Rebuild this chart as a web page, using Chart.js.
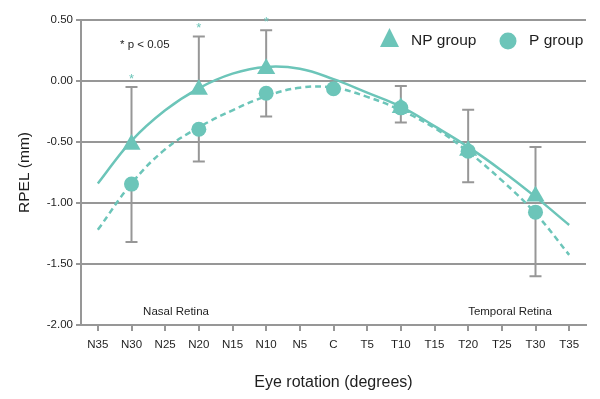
<!DOCTYPE html>
<html>
<head>
<meta charset="utf-8">
<script src="https://cdn.jsdelivr.net/npm/chart.js@4"></script>
<style>
  body { margin: 0; background: #fff; }
  canvas { display: block; }
</style>
</head>
<body>
<canvas id="rpel-chart" width="600" height="399"></canvas>
<script>
// categories along the x axis
const categories = ['N35', 'N30', 'N25', 'N20', 'N15', 'N10', 'N5', 'C', 'T5', 'T10', 'T15', 'T20', 'T25', 'T30', 'T35'];

// group means (mm)
const npMean = [null, -0.52, null, -0.07, null, 0.10, null, null, null, -0.22, null, -0.57, null, -0.945, null];
const pMean  = [null, -0.845, null, -0.395, null, -0.10, null, -0.063, null, -0.22, null, -0.575, null, -1.075, null];

// error bar ends (NP drawn upwards, P drawn downwards)
const npUpper = [null, -0.05, null, 0.365, null, 0.415, null, null, null, -0.04, null, -0.235, null, -0.54, null];
const pLower  = [null, -1.32, null, -0.66, null, -0.29, null, null, null, -0.34, null, -0.83, null, -1.60, null];

// fitted curves
const npFit = [-0.84, -0.49, -0.24, -0.06, 0.06, 0.115, 0.10, 0.015, -0.095, -0.21, -0.37, -0.54, -0.735, -0.95, -1.18];
const pFit  = [-1.22, -0.84, -0.56, -0.38, -0.24, -0.125, -0.055, -0.055, -0.13, -0.24, -0.385, -0.58, -0.815, -1.085, -1.425];

// significant points (p < 0.05)
const sigCategories = ['N30', 'N20', 'N10'];

const TEAL = '#6cc5b9';
const GRAY = '#979797';
const TEXT = '#1e1e1e';
const FONT = "'Liberation Sans', Arial, sans-serif";

Chart.defaults.font.family = FONT;
Chart.defaults.color = TEXT;

// vertical error bars with caps, drawn behind the markers
const errorBars = {
    id: 'errorBars',
    beforeDatasetsDraw(chart) {
        const { ctx, scales: { x, y } } = chart;
        ctx.save();
        ctx.strokeStyle = GRAY;
        ctx.lineWidth = 2;
        const drawBars = (means, ends) => {
            means.forEach((m, i) => {
                if (m === null || ends[i] === null) return;
                const px = x.getPixelForValue(i);
                const y0 = y.getPixelForValue(m);
                const y1 = y.getPixelForValue(ends[i]);
                ctx.beginPath();
                ctx.moveTo(px, y0);
                ctx.lineTo(px, y1);
                ctx.moveTo(px - 6, y1);
                ctx.lineTo(px + 6, y1);
                ctx.stroke();
            });
        };
        drawBars(npMean, npUpper);
        drawBars(pMean, pLower);
        ctx.restore();
    }
};

// legend and text notes inside the plot
const notes = {
    id: 'notes',
    afterDraw(chart) {
        const { ctx, scales: { x, y } } = chart;
        ctx.save();
        ctx.textBaseline = 'middle';
        ctx.textAlign = 'center';
        // teal asterisks above the significant error bars
        ctx.fillStyle = TEAL;
        ctx.font = '13px ' + FONT;
        sigCategories.forEach(c => {
            const i = categories.indexOf(c);
            const top = y.getPixelForValue(npUpper[i]);
            ctx.fillText('*', x.getPixelForValue(i), top - 8);
        });

        // legend: triangle = NP group, circle = P group
        ctx.beginPath();
        ctx.moveTo(389.5, 28);
        ctx.lineTo(399, 47);
        ctx.lineTo(380, 47);
        ctx.closePath();
        ctx.fill();
        ctx.beginPath();
        ctx.arc(508, 41, 8.5, 0, Math.PI * 2);
        ctx.fill();
        ctx.fillStyle = TEXT;
        ctx.textAlign = 'left';
        ctx.font = '15.5px ' + FONT;
        ctx.fillText(chart.data.datasets[0].label, 411, 41);
        ctx.fillText(chart.data.datasets[1].label, 529, 41);

        ctx.font = '11.5px ' + FONT;
        ctx.fillText('* p < 0.05', 120, 45);
        ctx.textAlign = 'center';
        ctx.fillText('Nasal Retina', 176, 312);
        ctx.fillText('Temporal Retina', 510, 312);
        ctx.restore();
    }
};

const ctx = document.getElementById('rpel-chart');
new Chart(ctx, {
    type: 'line',
    data: {
        labels: categories,
        datasets: [
            {
                label: 'NP group',
                data: npMean,
                showLine: false,
                pointStyle: 'triangle',
                pointRadius: 10.5,
                backgroundColor: TEAL,
                borderColor: TEAL,
                pointBackgroundColor: TEAL,
                borderWidth: 0,
                pointBorderWidth: 0,
                order: 1
            },
            {
                label: 'P group',
                data: pMean,
                showLine: false,
                pointStyle: 'circle',
                pointRadius: 7.5,
                backgroundColor: TEAL,
                borderColor: TEAL,
                pointBackgroundColor: TEAL,
                borderWidth: 0,
                pointBorderWidth: 0,
                order: 0
            },
            {
                label: 'NP fit',
                data: npFit,
                borderColor: TEAL,
                borderWidth: 2.5,
                pointRadius: 0,
                tension: 0.4,
                fill: false,
                order: 3
            },
            {
                label: 'P fit',
                data: pFit,
                borderColor: TEAL,
                borderWidth: 2.5,
                borderDash: [6, 4],
                pointRadius: 0,
                tension: 0.4,
                fill: false,
                order: 2
            }
        ]
    },
    options: {
        responsive: false,
        animation: false,
        events: [],
        layout: { padding: { top: 20, right: 14, left: 0, bottom: 0 } },
        plugins: {
            legend: { display: false },
            tooltip: { enabled: false }
        },
        scales: {
            x: {
                type: 'category',
                offset: true,
                afterFit: s => { s.height = 74; },
                grid: {
                    drawOnChartArea: false,
                    drawTicks: true,
                    tickLength: 6,
                    color: GRAY,
                    lineWidth: 2
                },
                border: { display: true, color: GRAY, width: 2 },
                ticks: { color: TEXT, font: { size: 11.5 }, padding: 7, maxRotation: 0, autoSkip: false },
                title: {
                    display: true,
                    text: 'Eye rotation (degrees)',
                    color: TEXT,
                    font: { size: 16 },
                    padding: { top: 0, bottom: 7 }
                }
            },
            y: {
                min: -2,
                max: 0.5,
                afterFit: s => { s.width = 81; },
                ticks: {
                    stepSize: 0.5,
                    color: TEXT,
                    font: { size: 11.5 },
                    padding: 3,
                    callback: v => v.toFixed(2)
                },
                grid: { color: GRAY, lineWidth: 2, tickLength: 5 },
                border: { display: true, color: GRAY, width: 2 },
                title: {
                    display: true,
                    text: 'RPEL (mm)',
                    color: TEXT,
                    font: { size: 15.5 },
                    padding: { top: 15.5, bottom: 0 }
                }
            }
        }
    },
    plugins: [errorBars, notes]
});
</script>
</body>
</html>
